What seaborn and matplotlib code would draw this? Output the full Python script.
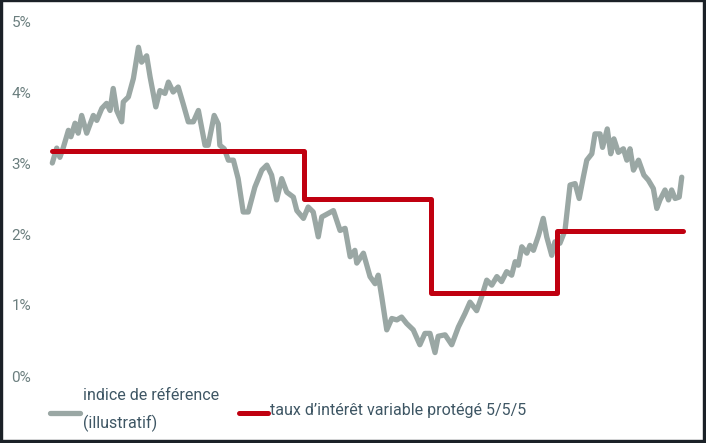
import matplotlib
matplotlib.use("Agg")
import matplotlib.pyplot as plt
from matplotlib.patches import Rectangle
from matplotlib.lines import Line2D
import seaborn as sns
import pandas as pd

# reference index (illustrative), time in years
index_years = [0.01, 0.15, 0.25, 0.36, 0.52, 0.60, 0.73, 0.83, 0.94, 1.10,
               1.31, 1.42, 1.58, 1.73, 1.84, 1.94, 2.05, 2.21, 2.26, 2.42,
               2.58, 2.74, 2.84, 3.00, 3.11, 3.29, 3.42, 3.58, 3.69, 3.84,
               4.00, 4.16, 4.32, 4.48, 4.64, 4.85, 4.95, 5.14, 5.27, 5.32,
               5.46, 5.59, 5.75, 5.90, 6.06, 6.22, 6.43, 6.65, 6.81, 6.96,
               7.12, 7.28, 7.44, 7.65, 7.76, 7.97, 8.12, 8.28, 8.44, 8.55,
               8.92, 9.13, 9.29, 9.45, 9.60, 9.66, 9.87, 10.08, 10.24, 10.34,
               10.45, 10.61, 10.77, 10.93, 11.08, 11.24, 11.45, 11.66, 11.82, 11.98,
               12.14, 12.24, 12.46, 12.67, 12.88, 13.09, 13.25, 13.46, 13.62, 13.78,
               13.94, 14.10, 14.25, 14.41, 14.57, 14.68, 14.78, 14.89, 15.05, 15.15,
               15.26, 15.42, 15.57, 15.68, 15.84, 15.94, 16.10, 16.26, 16.42, 16.58,
               16.71, 16.84, 16.95, 17.11, 17.21, 17.37, 17.45, 17.60, 17.71, 17.81,
               17.95, 18.11, 18.22, 18.32, 18.43, 18.59, 18.76, 18.90, 19.06, 19.17,
               19.27, 19.43, 19.54, 19.64, 19.75, 19.88, 19.96]
index_values = [3.00, 3.21, 3.08, 3.22, 3.46, 3.37, 3.56, 3.42, 3.67, 3.42,
                3.67, 3.60, 3.77, 3.84, 3.74, 4.05, 3.74, 3.58, 3.86, 3.93,
                4.19, 4.63, 4.42, 4.51, 4.21, 3.79, 4.02, 3.98, 4.14, 4.00,
                4.07, 3.83, 3.58, 3.58, 3.74, 3.25, 3.25, 3.67, 3.55, 3.25,
                3.20, 3.04, 3.04, 2.78, 2.31, 2.31, 2.66, 2.90, 2.97, 2.83,
                2.48, 2.78, 2.59, 2.52, 2.33, 2.22, 2.38, 2.31, 1.96, 2.24,
                2.33, 2.05, 2.08, 1.68, 1.77, 1.59, 1.73, 1.40, 1.30, 1.42,
                1.12, 0.65, 0.81, 0.79, 0.83, 0.74, 0.65, 0.44, 0.60, 0.60,
                0.33, 0.56, 0.58, 0.44, 0.69, 0.88, 1.04, 0.92, 1.12, 1.35,
                1.28, 1.40, 1.33, 1.47, 1.42, 1.61, 1.56, 1.82, 1.73, 1.84,
                1.77, 1.98, 2.22, 1.96, 1.70, 1.89, 1.87, 2.05, 2.69, 2.71,
                2.50, 2.80, 3.04, 3.13, 3.41, 3.41, 3.22, 3.48, 3.13, 3.34,
                3.15, 3.20, 3.04, 3.20, 2.90, 3.04, 2.83, 2.76, 2.64, 2.36,
                2.48, 2.62, 2.48, 2.62, 2.50, 2.52, 2.80]

# protected variable rate: level changes
rate_years = [0, 8, 12, 16, 20]
rate_values = [3.17, 2.50, 1.17, 2.04, 2.04]

y_ticks = [0, 1, 2, 3, 4, 5]
y_labels = ["0%", "1%", "2%", "3%", "4%", "5%"]

gray = "#9aa7a4"
red = "#c00010"

sns.set_style("white")
plt.rcParams["font.family"] = ["Roboto", "DejaVu Sans"]

df_index = pd.DataFrame({"annee": index_years, "taux": index_values})
df_rate = pd.DataFrame({"annee": rate_years, "taux": rate_values})

fig = plt.figure(figsize=(7.06, 4.43), dpi=100)
ax = fig.add_axes([52 / 706, 1 - 376 / 443, 631 / 706, 355 / 443])

sns.lineplot(data=df_index, x="annee", y="taux", ax=ax, color=gray,
             linewidth=3.8, clip_on=False, solid_joinstyle="round")
sns.lineplot(data=df_rate, x="annee", y="taux", ax=ax, color=red,
             linewidth=3.6, drawstyle="steps-post", clip_on=False)

ax.set_xlim(0, 20)
ax.set_ylim(0, 5)
ax.set_xticks([])
ax.set_yticks(y_ticks)
ax.set_yticklabels(y_labels, color="#6b7e7e", fontsize=11)
ax.tick_params(axis="y", length=0, pad=15)
ax.set_xlabel("")
ax.set_ylabel("")
sns.despine(ax=ax, left=True, bottom=True)
ax.grid(False)

# legend drawn by hand to keep the two-line label layout
txt_color = "#3e5664"
fig.add_artist(Line2D([50 / 706, 80 / 706], [1 - 413 / 443] * 2, color=gray,
                      linewidth=3.8, solid_capstyle="round"))
fig.text(83 / 706, 1 - 396 / 443, "indice de référence",
         color=txt_color, fontsize=11.5, va="center", ha="left")
fig.text(83 / 706, 1 - 423 / 443, "(illustratif)",
         color=txt_color, fontsize=11.5, va="center", ha="left")
fig.add_artist(Line2D([239 / 706, 268 / 706], [1 - 413 / 443] * 2, color=red,
                      linewidth=3.6, solid_capstyle="round"))
fig.text(270 / 706, 1 - 410 / 443, "taux d\u2019intérêt variable protégé 5/5/5",
         color=txt_color, fontsize=11.5, va="center", ha="left")

# dark frame round the picture
frame = "#1b2127"
fig.add_artist(Rectangle((0, 0), 2 / 706, 1, transform=fig.transFigure, color=frame))
fig.add_artist(Rectangle((1 - 3 / 706, 0), 3 / 706, 1, transform=fig.transFigure, color=frame))
fig.add_artist(Rectangle((0, 0), 1, 3 / 443, transform=fig.transFigure, color=frame))
fig.add_artist(Rectangle((0, 1 - 1 / 443), 1, 1 / 443, transform=fig.transFigure, color=frame))

fig.savefig("out.png", dpi=100)
plt.close(fig)
